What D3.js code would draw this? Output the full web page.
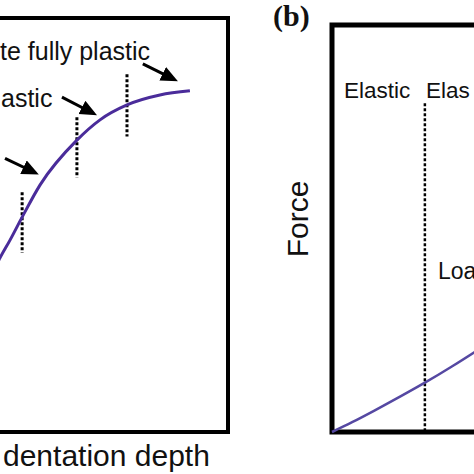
<!DOCTYPE html>
<html>
<head>
<meta charset="utf-8">
<script src="https://cdn.jsdelivr.net/npm/d3@7"></script>
<style>
  body { margin: 0; background: #fff; }
  svg { display: block; }
  text { font-family: Arial, "Liberation Sans", sans-serif; fill: #111; }
</style>
</head>
<body>
<div class="viewbox"></div>
<script>
  // panel (a): force vs indentation depth (only its right part shows in the crop)
  const leftDepth = [44.4, 46.7, 49.1, 51.9, 56.1, 64.7, 70.1, 76.4, 84.1, 91.1]
  const leftForce = [37.2, 42.0, 46.4, 51.9, 59.7, 70.5, 75.4, 79.0, 81.4, 82.4]

  // dashed regime boundaries on panel (a)
  const phaseDepth = [51.9, 64.7, 76.4]
  const phaseTop = [57.9, 76.0, 86.4]
  const phaseBottom = [43.3, 61.5, 71.4]

  // arrows pointing at the regimes
  const arrowTailX = [80.1, 61.2, 47.9]
  const arrowTailY = [88.9, 80.9, 66.1]
  const arrowTipX = [88.3, 69.4, 55.8]
  const arrowTipY = [84.7, 76.5, 62.2]

  // panel (b): loading curve
  const rightDepth = [0, 4.7, 9.8, 16.1, 22.0, 28.0, 33.4, 39.7]
  const rightForce = [0, 2.4, 5.2, 8.8, 12.3, 16.1, 19.7, 24.0]
  const elasticLimit = 21.7
  const elasticTop = 80.8

  const svg_width = 474;
  const svg_height = 474;

  let svg = d3.select(".viewbox")
    .append("svg")
    .attr("width", svg_width)
    .attr("height", svg_height)

  // arrow head, refX=6 so the tip sits 11px past the end of the shaft
  svg.append("defs").append("marker")
    .attr("id", "head")
    .attr("markerUnits", "userSpaceOnUse")
    .attr("markerWidth", 18)
    .attr("markerHeight", 16)
    .attr("refX", 6)
    .attr("refY", 7.5)
    .attr("orient", "auto")
    .append("path")
    .attr("d", "M0,0 L17,7.5 L0,15 Z")
    .attr("fill", "#000")

  // ---------- panel (a) ----------
  let xL = d3.scaleLinear().domain([0, 100]).range([-200, 228])
  let yL = d3.scaleLinear().domain([0, 100]).range([432, 18])

  svg.append("rect")
    .attr("x", xL(0))
    .attr("y", yL(100))
    .attr("width", xL(100) - xL(0))
    .attr("height", yL(0) - yL(100))
    .attr("fill", "none")
    .attr("stroke", "#000")
    .attr("stroke-width", 4)

  svg.selectAll(".phase")
    .data(phaseDepth)
    .enter()
    .append("line")
    .attr("class", "phase")
    .attr("x1", d => xL(d))
    .attr("x2", d => xL(d))
    .attr("y1", (d, i) => yL(phaseTop[i]))
    .attr("y2", (d, i) => yL(phaseBottom[i]))
    .attr("stroke", "#000")
    .attr("stroke-width", 3)
    .attr("stroke-dasharray", "3,2")

  let lineL = d3.line()
    .x(d => xL(d[0]))
    .y(d => yL(d[1]))
    .curve(d3.curveMonotoneX)

  svg.append("path")
    .datum(leftDepth.map((d, i) => [d, leftForce[i]]))
    .attr("d", lineL)
    .attr("fill", "none")
    .attr("stroke", "#4a2c9a")
    .attr("stroke-width", 3)

  svg.selectAll(".arrow")
    .data(arrowTailX)
    .enter()
    .append("line")
    .attr("class", "arrow")
    .each(function (d, i) {
      let x1 = xL(d), y1 = yL(arrowTailY[i])
      let x2 = xL(arrowTipX[i]), y2 = yL(arrowTipY[i])
      let len = Math.hypot(x2 - x1, y2 - y1)
      // pull the shaft back so the head ends on the tip
      d3.select(this)
        .attr("x1", x1).attr("y1", y1)
        .attr("x2", x2 - (x2 - x1) / len * 11)
        .attr("y2", y2 - (y2 - y1) / len * 11)
    })
    .attr("stroke", "#000")
    .attr("stroke-width", 3)
    .attr("marker-end", "url(#head)")

  svg.append("text").attr("x", 0).attr("y", 60)
    .style("font-size", "25px").text("te fully plastic")
  svg.append("text").attr("x", 1).attr("y", 107)
    .style("font-size", "25px").text("astic")
  svg.append("text").attr("x", 3).attr("y", 466)
    .style("font-size", "30px").text("dentation depth")

  // ---------- panel (b) ----------
  let xR = d3.scaleLinear().domain([0, 100]).range([332, 760])
  let yR = d3.scaleLinear().domain([0, 100]).range([432, 25])

  svg.append("rect")
    .attr("x", xR(0))
    .attr("y", yR(100))
    .attr("width", xR(100) - xR(0))
    .attr("height", yR(0) - yR(100))
    .attr("fill", "none")
    .attr("stroke", "#000")
    .attr("stroke-width", 5)

  svg.append("line")
    .attr("x1", xR(elasticLimit))
    .attr("x2", xR(elasticLimit))
    .attr("y1", yR(elasticTop))
    .attr("y2", yR(0))
    .attr("stroke", "#000")
    .attr("stroke-width", 2.5)
    .attr("stroke-dasharray", "3,2")

  let lineR = d3.line()
    .x(d => xR(d[0]))
    .y(d => yR(d[1]))
    .curve(d3.curveMonotoneX)

  svg.append("path")
    .datum(rightDepth.map((d, i) => [d, rightForce[i]]))
    .attr("d", lineR)
    .attr("fill", "none")
    .attr("stroke", "#5548a2")
    .attr("stroke-width", 2.5)

  svg.append("text").attr("x", 273).attr("y", 26)
    .style("font-family", "'Times New Roman', 'Liberation Serif', serif")
    .style("font-weight", "bold")
    .style("font-size", "30px")
    .text("(b)")

  svg.append("text")
    .attr("transform", "translate(308,219) rotate(-90)")
    .attr("text-anchor", "middle")
    .style("font-size", "30px")
    .text("Force")

  svg.append("text").attr("x", 344).attr("y", 98)
    .style("font-size", "22.5px").text("Elastic")
  svg.append("text").attr("x", 426).attr("y", 98)
    .style("font-size", "22.5px").text("Elas")
  svg.append("text").attr("x", 438).attr("y", 279)
    .style("font-size", "23px").text("Loa")
</script>
</body>
</html>
